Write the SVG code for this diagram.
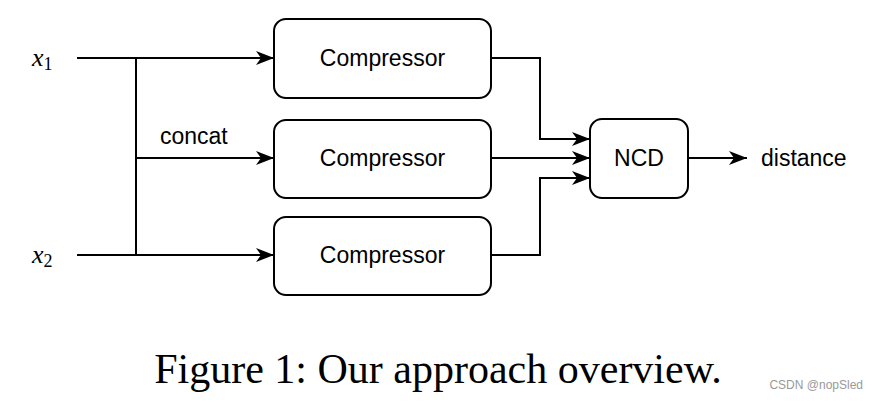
<svg xmlns="http://www.w3.org/2000/svg" width="878" height="402" viewBox="0 0 878 402">
<style>
.box{fill:#fff;stroke:#000;stroke-width:2}
.ln{fill:none;stroke:#000;stroke-width:2}
.t{font-family:"Liberation Sans",Arial,sans-serif;font-size:23px;fill:#000}
.m{font-family:"Liberation Serif","Times New Roman",serif;font-style:italic;font-size:26px}
</style>
<defs><marker id="b" viewBox="0 0 18 14" refX="18" refY="7" markerWidth="18" markerHeight="14" markerUnits="userSpaceOnUse" orient="auto"><path d="M0,0 L18,7 L0,14 L5,7 Z" fill="#000"/></marker></defs>
<g id="connectors">
<path class="ln" d="M77,58 H274" marker-end="url(#b)"/>
<path class="ln" d="M77,255 H274" marker-end="url(#b)"/>
<path class="ln" d="M136,58 V255"/>
<path class="ln" d="M136,158 H274" marker-end="url(#b)"/>
<path class="ln" d="M491,58 H540 V139 H590" marker-end="url(#b)"/>
<path class="ln" d="M491,158 H590" marker-end="url(#b)"/>
<path class="ln" d="M491,255 H540 V178 H590" marker-end="url(#b)"/>
<path class="ln" d="M688,158 H747" marker-end="url(#b)"/>
</g>
<g id="x1"><text class="m" x="32" y="66">x<tspan font-style="normal" font-size="18" dy="4">1</tspan></text></g>
<g id="x2"><text class="m" x="32" y="263">x<tspan font-style="normal" font-size="18" dy="4">2</tspan></text></g>
<g id="concat"><text class="t" x="160" y="144">concat</text></g>
<g id="c1"><rect class="box" x="274" y="19" width="217" height="79" rx="12"/><text class="t" x="382.5" y="66" text-anchor="middle">Compressor</text></g>
<g id="c2"><rect class="box" x="274" y="120" width="217" height="78" rx="12"/><text class="t" x="382.5" y="166" text-anchor="middle">Compressor</text></g>
<g id="c3"><rect class="box" x="274" y="217" width="217" height="78" rx="12"/><text class="t" x="382.5" y="263" text-anchor="middle">Compressor</text></g>
<g id="ncd"><rect class="box" x="590" y="119" width="98" height="79" rx="12"/><text class="t" x="639" y="166" text-anchor="middle">NCD</text></g>
<g id="distance"><text class="t" x="761" y="166">distance</text></g>
<text x="438" y="383" text-anchor="middle" font-family="Liberation Serif,serif" font-size="42">Figure 1: Our approach overview.</text>
<text x="863" y="389" text-anchor="end" font-family="Liberation Sans,sans-serif" font-size="12" fill="#999">CSDN @nopSled</text>
</svg>
